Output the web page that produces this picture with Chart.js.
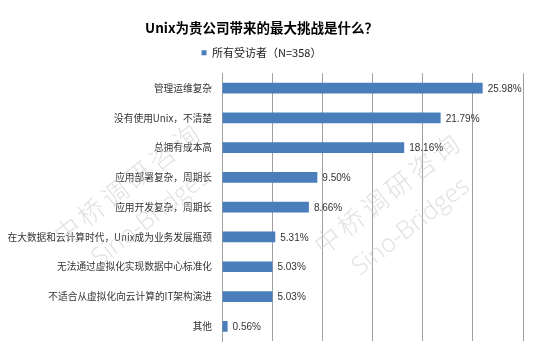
<!DOCTYPE html>
<html>
<head>
<meta charset="utf-8">
<script src="https://cdn.jsdelivr.net/npm/chart.js@4"></script>
<style>
html,body{margin:0;padding:0;background:#fff;}
#wrap{width:550px;height:357px;position:relative;}
</style>
</head>
<body>
<div id="wrap"><canvas id="c"></canvas></div>
<script>
const categories = ['管理运维复杂','没有使用Unix，不清楚','总拥有成本高','应用部署复杂，周期长','应用开发复杂，周期长','在大数据和云计算时代，Unix成为业务发展瓶颈','无法通过虚拟化实现数据中心标准化','不适合从虚拟化向云计算的IT架构演进','其他'];
const values = [25.98,21.79,18.16,9.50,8.66,5.31,5.03,5.03,0.56];
const seriesName = '所有受访者（N=358）';
const titleText = 'Unix为贵公司带来的最大挑战是什么？';
const xTicks = [0,5,10,15,20,25,30];
const watermarkCn = '中桥调研咨询';
const watermarkEn = 'Sino-Bridges';

const CJK = '"Noto Sans CJK SC", "Liberation Sans", sans-serif';

const legendPad = {
  id: 'legendPad',
  beforeInit(chart) {
    const orig = chart.legend.fit;
    chart.legend.fit = function() {
      orig.call(this);
      this.height += 5;
    };
  }
};

const watermark = {
  id: 'watermark',
  beforeDatasetsDraw(chart) {
    const ctx = chart.ctx;
    const marks = [
      {x:128, y:183, t:watermarkCn, f:'300 26px ' + CJK, ls:'4px'},
      {x:151, y:218, t:watermarkEn, f:'300 25px "Open Sans", "Liberation Sans", sans-serif', ls:'0px'},
      {x:388, y:193, t:watermarkCn, f:'300 26px ' + CJK, ls:'4px'},
      {x:411, y:227, t:watermarkEn, f:'300 25px "Open Sans", "Liberation Sans", sans-serif', ls:'0px'}
    ];
    ctx.save();
    marks.forEach(m => {
      ctx.save();
      ctx.translate(m.x, m.y);
      ctx.rotate(-38 * Math.PI / 180);
      ctx.font = m.f;
      try { ctx.letterSpacing = m.ls; } catch(e) {}
      ctx.textAlign = 'center';
      ctx.textBaseline = 'middle';
      ctx.fillStyle = 'rgba(205,205,205,0.6)';
      ctx.fillText(m.t, 0, 0);
      ctx.restore();
    });
    ctx.restore();
  }
};

const valueLabels = {
  id: 'valueLabels',
  afterDatasetsDraw(chart) {
    const ctx = chart.ctx;
    const meta = chart.getDatasetMeta(0);
    ctx.save();
    ctx.font = '10px "Liberation Sans", Arial, sans-serif';
    ctx.fillStyle = '#333333';
    ctx.textAlign = 'left';
    ctx.textBaseline = 'middle';
    meta.data.forEach((bar, i) => {
      const v = chart.data.datasets[0].data[i];
      ctx.fillText(v.toFixed(2) + '%', bar.x + 5, bar.y + 1);
    });
    ctx.restore();
  }
};

new Chart(document.getElementById('c'), {
  type: 'bar',
  data: {
    labels: categories,
    datasets: [{
      label: seriesName,
      data: values,
      backgroundColor: '#4a7ebb',
      borderWidth: 0,
      categoryPercentage: 0.8,
      barPercentage: 0.45
    }]
  },
  options: {
    indexAxis: 'y',
    responsive: true,
    maintainAspectRatio: false,
    animation: false,
    devicePixelRatio: 1,
    layout: { padding: { left: 0, right: 27, top: 0, bottom: 10 } },
    plugins: {
      title: {
        display: true,
        text: titleText,
        color: '#000000',
        font: { family: CJK, size: 13.5, weight: 'bold' },
        padding: { top: 20, bottom: 4 }
      },
      legend: {
        display: true,
        position: 'top',
        labels: {
          boxWidth: 5,
          boxHeight: 5,
          color: '#222222',
          font: { family: CJK, size: 11 },
          padding: 7
        }
      },
      tooltip: { enabled: false }
    },
    scales: {
      x: {
        min: xTicks[0],
        max: xTicks[xTicks.length - 1],
        afterBuildTicks(scale) { scale.ticks = xTicks.map(v => ({ value: v })); },
        ticks: { display: false },
        grid: { display: true, color: '#a0a0a0', lineWidth: 1, drawTicks: false },
        border: { display: false }
      },
      y: {
        afterFit(scale) { scale.width = 222; },
        ticks: {
          color: '#333333',
          font: { family: CJK, size: 9.7 },
          padding: 10,
          autoSkip: false
        },
        grid: { display: false, drawTicks: false },
        border: { display: true, color: '#a0a0a0', width: 1 }
      }
    }
  },
  plugins: [legendPad, watermark, valueLabels]
});
</script>
</body>
</html>
